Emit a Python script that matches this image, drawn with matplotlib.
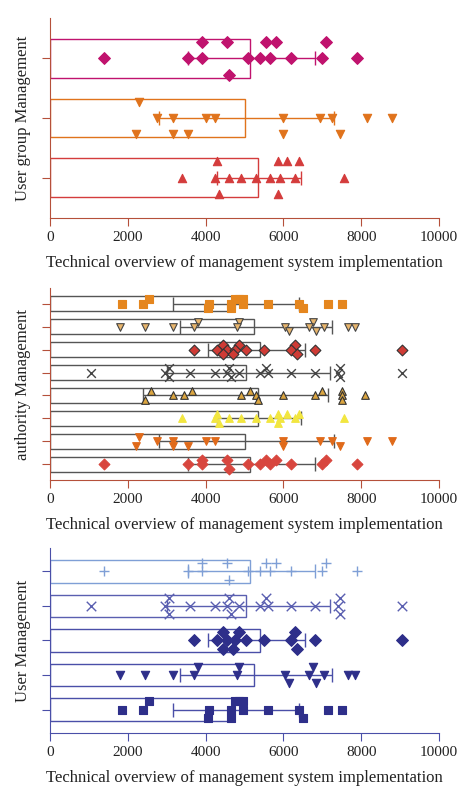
import matplotlib
matplotlib.use("Agg")
import matplotlib.pyplot as plt

plt.rcParams['font.family'] = ['Liberation Serif', 'DejaVu Serif']

# datasets: (upper, middle, lower) jitter rows, mean, err_low, err_high
A = dict(up=[3900,4550,5550,5800,7100], mid=[1400,3550,3900,5100,5400,5650,6200,7000,7900], lo=[4600], mean=5150, lo_err=3550, hi_err=6800)
B = dict(up=[2300], mid=[2750,3150,4000,4250,6000,6950,7250,8150,8800], lo=[2200,3150,3550,6000,7450], mean=5000, lo_err=2800, hi_err=7300)
C = dict(up=[4300,5850,6100,6400], mid=[3400,4250,4600,4900,5300,5650,5900,6300,7550], lo=[4350,5850], mean=5350, lo_err=4300, hi_err=6450)
D = dict(up=[2550,4750,4850,4950], mid=[1850,2400,4100,4650,4950,5600,6400,7150,7500], lo=[4050,4650,6500], mean=4700, lo_err=3150, hi_err=6400)
E = dict(up=[3800,4850,6750], mid=[1800,2450,3150,3700,4800,6050,6650,7050,7650,7850], lo=[6150,6850], mean=5250, lo_err=3350, hi_err=7250)
F = dict(up=[4450,4850,6300], mid=[3700,4300,4550,4750,5050,5500,6200,6800,9050], lo=[4450,4700,6350], mean=5400, lo_err=4050, hi_err=6550)
G = dict(up=[3050,4600,5550,7450], mid=[1050,2950,3600,4250,4550,4850,5400,5600,6200,6800,7400,9050], lo=[3050,4650,7450], mean=5050, lo_err=3000, hi_err=7200)
H = dict(up=[2600,3650,5150,7000,7500], mid=[3150,3450,4900,5300,6000,6800,7500,8100], lo=[2450,5350,7500], mean=5350, lo_err=2400, hi_err=7150)

xlabel = "Technical overview of management system implementation"
xticks = [0, 2000, 4000, 6000, 8000, 10000]

red = '#b5503a'
navy = '#2e2f8a'
panels = [
    dict(ylabel="User group Management", spine=red, jit=0.27, half=0.32, ms=6, rows=[
        (A, 'D', '#c0136e', '#c0136e', '#c0136e'),
        (B, 'v', '#e0731c', '#e0731c', '#e0731c'),
        (C, '^', '#d43c3c', '#d43c3c', '#d43c3c')]),
    dict(ylabel="authority Management", spine=red, jit=0.2, half=0.32, ms=5.5, rows=[
        (D, 's', '#e5861e', '#e5861e', '#555555'),
        (E, 'v', '#e8b56c', '#444444', '#555555'),
        (F, 'D', '#cf3b35', '#333333', '#555555'),
        (G, 'x', '#444444', '#444444', '#555555'),
        (H, '^', '#dba540', '#333333', '#555555'),
        (C, '^', '#f2e640', '#f2e640', '#555555'),
        (B, 'v', '#e06a1a', '#e06a1a', '#555555'),
        (A, 'D', '#d8463e', '#d8463e', '#555555')]),
    dict(ylabel="User Management", spine='#4a4fa8', jit=0.24, half=0.32, ms=6, rows=[
        (A, '+', '#7f9fd6', '#7f9fd6', '#7f9fd6'),
        (G, 'x', '#5a5fb0', '#5a5fb0', '#5a5fb0'),
        (F, 'D', navy, navy, '#4a4fa8'),
        (E, 'v', navy, navy, '#4a4fa8'),
        (D, 's', navy, navy, '#4a4fa8')]),
]

fig = plt.figure(figsize=(4.74, 8.07), dpi=100)
W, H_ = 474, 807
boxes = [(50, 18, 439, 218), (50, 288, 439, 480), (50, 548, 439, 733)]

for spec, (x0, y0, x1, y1) in zip(panels, boxes):
    ax = fig.add_axes([x0 / W, 1 - y1 / H_, (x1 - x0) / W, (y1 - y0) / H_])
    n = len(spec['rows'])
    for i, (d, m, fc, ec, bc) in enumerate(spec['rows']):
        y = n - 1 - i
        h = spec['half']
        ax.barh(y, d['mean'], height=2 * h, left=0, color='none', edgecolor=bc, linewidth=1.0, zorder=1)
        ax.errorbar([d['mean']], [y], xerr=[[d['mean'] - d['lo_err']], [d['hi_err'] - d['mean']]],
                    fmt='none', ecolor=bc, elinewidth=1.0, capsize=5, capthick=1.0, zorder=2)
        jit = spec['jit']
        for key, off in (('up', jit), ('mid', 0), ('lo', -jit)):
            xs = d[key]
            ys = [y + off] * len(xs)
            if m in ('x', '+'):
                ax.scatter(xs, ys, marker=m, s=spec['ms'] ** 2 * 1.3, c=fc, linewidths=1.0, zorder=3)
            else:
                ax.scatter(xs, ys, marker=m, s=spec['ms'] ** 2, c=fc, edgecolors=ec, linewidths=0.8, zorder=3)
    ax.set_xlim(0, 10000)
    ax.set_ylim(-0.68, n - 1 + 0.68)
    ax.set_xticks(xticks)
    ax.set_xticklabels([str(t) for t in xticks], fontsize=11)
    ax.set_yticks(range(n))
    ax.set_yticklabels([])
    for s in ('top', 'right'):
        ax.spines[s].set_visible(False)
    for s in ('left', 'bottom'):
        ax.spines[s].set_color(spec['spine'])
    ax.tick_params(axis='both', colors=spec['spine'], labelcolor='#222222', length=6)
    ax.set_xlabel(xlabel, fontsize=12, color='#222222', labelpad=8)
    ax.set_ylabel(spec['ylabel'], fontsize=12, color='#222222', labelpad=4)

fig.savefig("out.png", dpi=100)
